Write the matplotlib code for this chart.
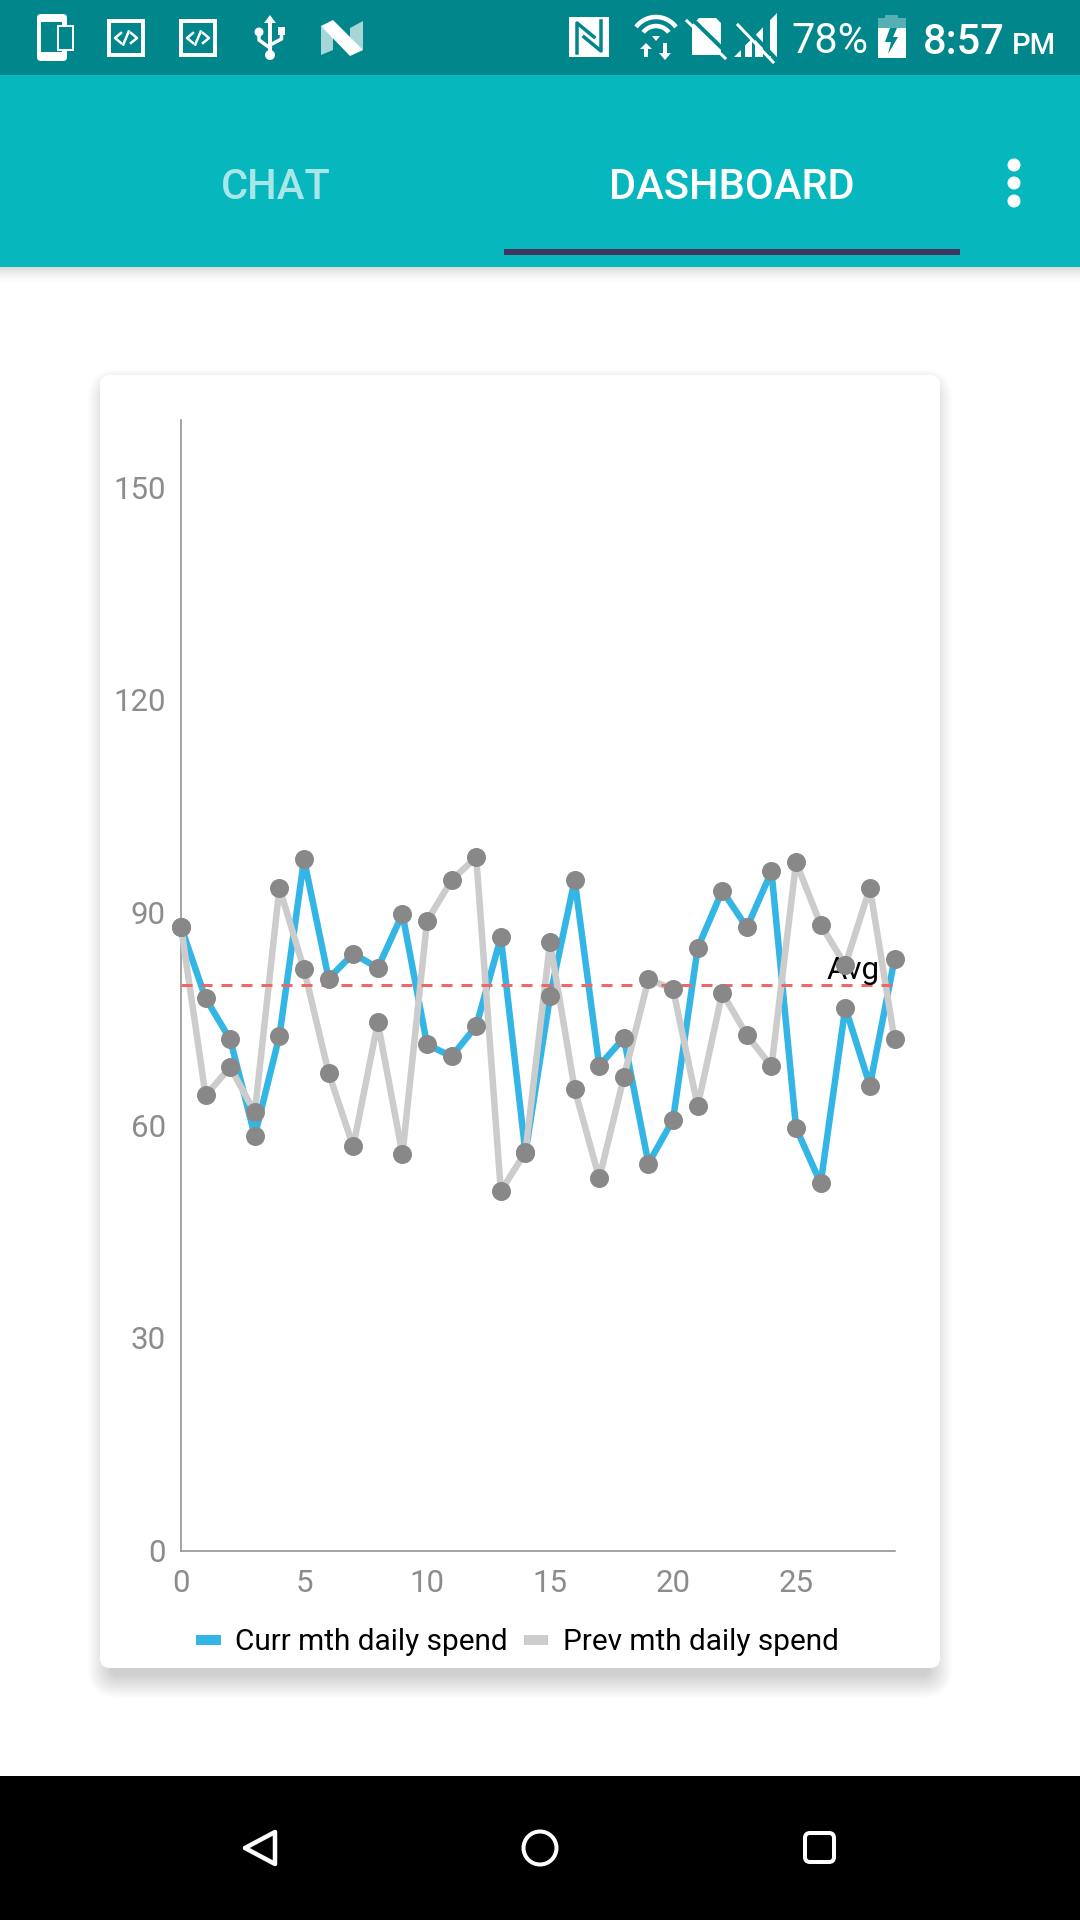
import numpy as np
import matplotlib
matplotlib.use("Agg")
import matplotlib.pyplot as plt
from matplotlib.patches import Rectangle, FancyBboxPatch, Circle, Polygon

plt.rcParams['font.family'] = ['Roboto', 'DejaVu Sans']

# values
days = list(range(30))
curr_mth = [88, 77.9, 72.1, 58.5, 72.6, 97.5, 80.7, 84.2, 82.2, 89.8,
            71.4, 69.7, 74, 86.5, 56.1, 78.2, 94.6, 68.4, 72.3, 54.6,
            60.8, 85, 93.1, 87.9, 95.8, 59.6, 51.8, 76.6, 65.6, 83.4]
prev_mth = [88, 64.2, 68.2, 61.8, 93.5, 82, 67.4, 57, 74.5, 55.9,
            88.8, 94.6, 97.8, 50.7, 56.2, 85.8, 65.1, 52.5, 66.8, 80.6,
            79.2, 62.7, 78.7, 72.7, 68.3, 97.1, 88.3, 82.6, 93.5, 72.1]
avg_value = 79.8
y_ticks = [0, 30, 60, 90, 120, 150]
x_ticks = [0, 5, 10, 15, 20, 25]
legend_labels = ["Curr mth daily spend", "Prev mth daily spend"]

BLUE = "#33b5e5"
GREY = "#cccccc"
DOT = "#888888"
TICK = "#8c8c8c"
STATUS = "#00868b"
BAR = "#06b8be"
PALE = "#a6d6d8"

W, H = 1080, 1920
fig = plt.figure(figsize=(W / 100, H / 100), dpi=100, facecolor="white")

# screen chrome is drawn in pixel coordinates
bg = fig.add_axes([0, 0, 1, 1])
bg.set_xlim(0, W)
bg.set_ylim(H, 0)
bg.axis("off")

def px(v):
    # px width -> points
    return v * 0.72

def poly(pts, color):
    bg.add_patch(Polygon(pts, closed=True, fc=color, ec="none"))

# toolbar shadow, fades out under the bar
for i in range(18):
    bg.add_patch(Rectangle((0, 267 + i), W, 1, fc="black", ec="none", alpha=0.15 * (1 - i / 18) ** 2))
bg.add_patch(Rectangle((0, 0), W, 75, fc=STATUS, ec="none"))
bg.add_patch(Rectangle((0, 75), W, 192, fc=BAR, ec="none"))
bg.add_patch(Rectangle((504, 249), 456, 6, fc="#3f3560", ec="none"))
bg.text(276, 199, "CHAT", color="#a9e6e8", fontsize=30, fontweight="medium", ha="center", va="baseline")
bg.text(732, 199, "DASHBOARD", color="white", fontsize=30, fontweight="medium", ha="center", va="baseline")
for cy in (165, 183, 201):
    bg.add_patch(Circle((1014, cy), 6.5, fc="white", ec="none"))

# status bar, left icons
bg.add_patch(FancyBboxPatch((37, 14), 30, 47, boxstyle="round,pad=0,rounding_size=4", fc="white", ec="none"))
bg.add_patch(Rectangle((41, 22), 21, 30, fc=STATUS, ec="none"))
bg.add_patch(Rectangle((57.5, 25.5), 15, 24, fc=STATUS, ec="white", lw=px(2)))
for bx in (107, 179):
    bg.add_patch(Rectangle((bx + 2, 21), 34, 34, fc="none", ec="white", lw=px(4)))
    cx = bx + 19
    bg.plot([cx - 5, cx - 11, cx - 5], [33, 38, 43], color="white", lw=px(2.5))
    bg.plot([cx + 5, cx + 11, cx + 5], [33, 38, 43], color="white", lw=px(2.5))
    bg.plot([cx - 2.7, cx + 2.7], [44.5, 31.5], color="white", lw=px(2.5))
bg.plot([270, 270], [20, 54], color="white", lw=px(4), solid_capstyle="butt")
poly([[264, 23], [270, 15], [276, 23]], "white")
bg.add_patch(Circle((270, 55), 5, fc="white", ec="none"))
bg.plot([259, 259, 270], [32, 40, 48], color="white", lw=px(3.5))
bg.plot([281.5, 281.5, 270], [33, 39, 45], color="white", lw=px(3.5))
bg.add_patch(Circle((259, 32), 4.5, fc="white", ec="none"))
bg.add_patch(Rectangle((278, 27), 7, 8, fc="white", ec="none"))
poly([[321, 26], [321, 55], [333, 50], [333, 34]], PALE)
poly([[350, 28], [363, 21], [363, 50], [350, 44]], PALE)
poly([[321, 26], [333, 20], [363, 50], [350, 56]], "white")

# status bar, right icons
bg.add_patch(Rectangle((569, 17), 40, 40, fc="white", ec="none"))
bg.plot([577, 577, 594], [53, 23, 37], color=STATUS, lw=px(3.5))
bg.plot([601, 601, 584], [21, 51, 37], color=STATUS, lw=px(3.5))
t = np.radians(np.linspace(217, 323, 24))
for r in (25, 16):
    bg.plot(656 + r * np.cos(t), 42 + r * np.sin(t), color="white", lw=px(4.5), solid_capstyle="butt")
poly([[652, 36], [660, 36], [656, 41]], "white")
poly([[640, 49], [646, 43], [652, 49]], "white")
bg.add_patch(Rectangle((644, 48), 4, 9, fc="white", ec="none"))
poly([[659, 53], [665, 60], [671, 53]], "white")
bg.add_patch(Rectangle((663, 43), 4, 11, fc="white", ec="none"))
poly([[699, 18], [716, 18], [721, 23], [721, 55], [692, 55], [692, 25]], "white")
bg.plot([690, 728], [17, 54], color=STATUS, lw=px(4))
bg.plot([687, 725], [21, 58], color="white", lw=px(3))
hyp = lambda x: 57 - (x - 734) * 44 / 43
for a, b in ((734, 741), (745, 752), (755, 763), (770, 777)):
    poly([[a, 57], [b, 57], [b, hyp(b)], [a, hyp(a)]], "white")
bg.plot([741, 776], [22, 59], color=STATUS, lw=px(4))
bg.plot([738, 773], [25, 62], color="white", lw=px(3))
bg.text(791, 53, "78%", color="white", fontsize=30, ha="left", va="baseline")
bg.add_patch(Rectangle((878, 18), 28, 40, fc="#55afb3", ec="none"))
bg.add_patch(Rectangle((885, 15), 13, 4, fc="#55afb3", ec="none"))
bg.add_patch(Rectangle((878, 28), 28, 30, fc="white", ec="none"))
poly([[890, 28], [897, 28], [893, 37], [898, 37], [888, 54], [891, 42], [885, 42]], STATUS)
bg.text(923, 54, "8:57", color="white", fontsize=30, fontweight="medium", ha="left", va="baseline")
bg.text(1012, 54, "PM", color="white", fontsize=21, fontweight="medium", ha="left", va="baseline")

# nav bar
bg.add_patch(Rectangle((0, 1776), W, H - 1776, fc="black", ec="none"))
bg.add_patch(Polygon([[275, 1832], [275, 1864], [245, 1848]], closed=True, fc="none", ec="white", lw=px(4.5), joinstyle="round"))
bg.add_patch(Circle((540, 1848), 16.5, fc="none", ec="white", lw=px(4)))
bg.add_patch(FancyBboxPatch((805, 1833), 29, 29, boxstyle="round,pad=0,rounding_size=5", fc="none", ec="white", lw=px(4)))

# card shadow: stacked layers, heavier below the card than on the sides
for i in range(24, 0, -1):
    bg.add_patch(FancyBboxPatch((112 - i, 393 - i), 816 + 2 * i, 1281 + 2 * i,
                                boxstyle="round,pad=0,rounding_size=%d" % (6 + i),
                                fc="black", ec="none", alpha=0.008))
bg.add_patch(FancyBboxPatch((100, 375), 840, 1293, boxstyle="round,pad=0,rounding_size=10", fc="white", ec="none"))

# chart
x0, x1 = 181, 894.5
y_bottom, y_top = 1550.5, 420
ax = fig.add_axes([x0 / W, 1 - y_bottom / H, (x1 - x0) / W, (y_bottom - y_top) / H])
ax.patch.set_alpha(0)
ax.plot(days, curr_mth, color=BLUE, lw=px(6.5), solid_joinstyle="round", zorder=3, clip_on=False)
ax.plot(days, prev_mth, color=GREY, lw=px(6.5), solid_joinstyle="round", zorder=3, clip_on=False)
ax.axhline(avg_value, color="#ee6666", lw=px(3), dashes=(11 / 3, 9 / 3), zorder=4)
# the dots sit on top of the Avg label
ax.text(28.4, avg_value + 0.9, "Avg", color="black", fontsize=22.5, ha="right", va="baseline", zorder=4.5)
ax.plot(days, curr_mth, "o", color=DOT, ms=px(19), mew=0, zorder=5, clip_on=False)
ax.plot(days, prev_mth, "o", color=DOT, ms=px(19), mew=0, zorder=5, clip_on=False)

ax.set_xlim(0, 29)
ax.set_ylim(0, 159.5)
ax.set_xticks(x_ticks)
ax.set_yticks(y_ticks)
ax.tick_params(axis="y", length=0, labelsize=22.5, labelcolor=TICK, pad=11)
ax.tick_params(axis="x", length=0, labelsize=22.5, labelcolor=TICK, pad=13)
for s in ("top", "right"):
    ax.spines[s].set_visible(False)
for s in ("left", "bottom"):
    ax.spines[s].set_color("#888888")
    ax.spines[s].set_linewidth(px(1.5))

handles = [plt.Line2D([], [], color=BLUE, lw=px(10), solid_capstyle="butt"),
           plt.Line2D([], [], color=GREY, lw=px(10), solid_capstyle="butt")]
fig.legend(handles, legend_labels, loc="center", bbox_to_anchor=(517.5 / W, 1 - 1642 / H), ncol=2, frameon=False,
           fontsize=21.4, handlelength=0.82, handletextpad=0.49, columnspacing=0.54, labelcolor="black")

fig.savefig("out.png", dpi=100)
